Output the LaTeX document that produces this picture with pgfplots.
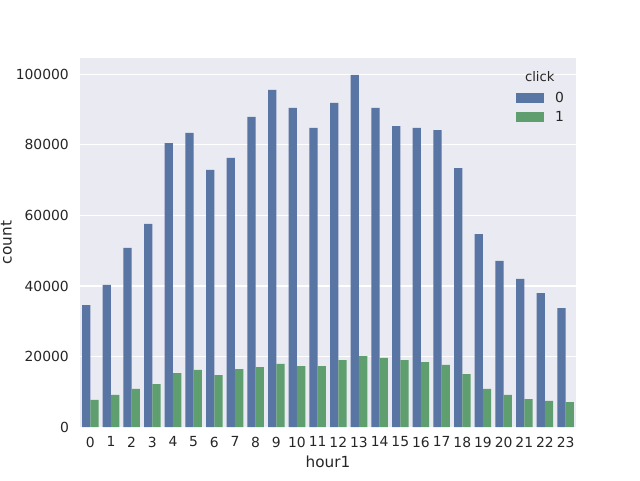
\documentclass[border=0pt]{standalone}
\usepackage{pgfplots}
\pgfplotsset{compat=1.18}
\usepackage{fontspec}
\setmainfont{DejaVu Sans}
\definecolor{bgc}{HTML}{EAEAF2}
\definecolor{txt}{HTML}{262626}
\definecolor{c0}{HTML}{5875A4}
\definecolor{c1}{HTML}{5F9E6E}
\pgfplotsset{boxleg/.style={legend image code/.code={\fill[##1] (0pt,-3.6pt) rectangle (20pt,3.6pt);}}}
\begin{document}
\begin{tikzpicture}[font=\fontsize{10}{12}\selectfont]
\useasboundingbox (-57.6pt,-38.2pt) rectangle (403.2pt,307.5pt);
\begin{axis}[
  at={(0,0)}, anchor=south west,
  scale only axis, width=357.1pt, height=265.7pt,
  xmin=-0.5, xmax=23.5, ymin=0, ymax=104600,
  axis background/.style={fill=bgc},
  axis line style={draw=none},
  major tick length=0pt,
  ytick={0,20000,40000,60000,80000,100000},
  xtick={0,1,...,23},
  ymajorgrids, grid style={white, line width=0.8pt},
  scaled y ticks=false,
  /pgf/number format/.cd, fixed, 1000 sep={}, assume math mode=true,
  /pgfplots/.cd,
  ticklabel style={text=txt, font=\fontsize{10}{12}\selectfont},
  yticklabel style={xshift=-4.5pt},
  xticklabel style={yshift=-3.5pt},
  xlabel={hour1}, ylabel={count},
  label style={text=txt, font=\fontsize{11}{13}\selectfont},
  xlabel style={yshift=0.5pt},
  ylabel style={at={(-57.6pt,132.85pt)}, anchor=center, xshift=0pt, yshift=-4.5pt},
  ybar, bar width=0.4,
  legend style={draw=none, fill=none, inner sep=0pt, at={(0.879,0.917)}, anchor=north west,
    font=\fontsize{10}{12}\selectfont, text=txt, row sep=1pt,
    nodes={inner sep=2pt}},
  legend cell align=left,
]
\addplot[draw=none, fill=c0, bar shift=-0.2, boxleg] coordinates {
(0,34600)(1,40300)(2,50800)(3,57600)(4,80500)(5,83400)(6,72900)(7,76300)
(8,87900)(9,95600)(10,90500)(11,84800)(12,91900)(13,99800)(14,90500)(15,85300)
(16,84800)(17,84200)(18,73400)(19,54700)(20,47100)(21,42000)(22,38000)(23,33700)};
\addlegendentry{\hspace{6pt}0}
\addplot[draw=none, fill=c1, bar shift=0.2, boxleg] coordinates {
(0,7700)(1,9100)(2,10800)(3,12200)(4,15300)(5,16200)(6,14700)(7,16400)
(8,17000)(9,17900)(10,17300)(11,17300)(12,19000)(13,20100)(14,19600)(15,19000)
(16,18400)(17,17600)(18,15000)(19,10800)(20,9100)(21,7900)(22,7400)(23,7100)};
\addlegendentry{\hspace{6pt}1}
\node[text=txt, font=\fontsize{9.5}{11}\selectfont] at (rel axis cs:0.927,0.951) {click};
\end{axis}
\end{tikzpicture}
\end{document}
